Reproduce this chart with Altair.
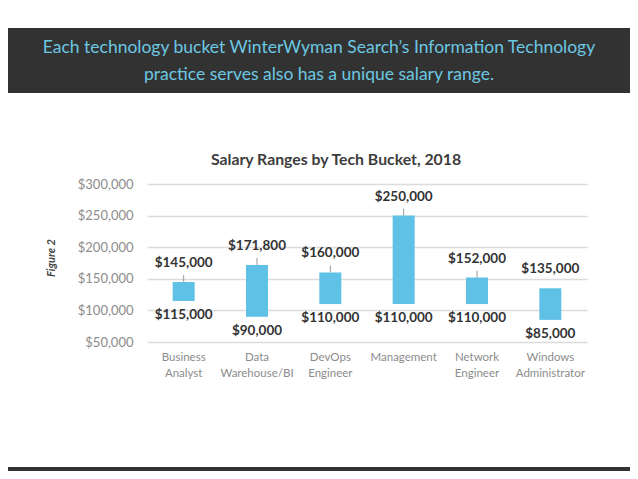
import altair as alt
import pandas as pd

# ---- data ----
categories = ["Business|Analyst", "Data|Warehouse/BI", "DevOps|Engineer",
              "Management", "Network|Engineer", "Windows|Administrator"]
min_salary = [115000, 90000, 110000, 110000, 110000, 85000]
max_salary = [145000, 171800, 160000, 250000, 152000, 135000]
y_ticks = [50000, 100000, 150000, 200000, 250000, 300000]
header_text = ("Each technology bucket WinterWyman Search\u2019s Information Technology\n"
               "practice serves also has a unique salary range.")
chart_title = "Salary Ranges by Tech Bucket, 2018"
side_label = "Figure 2"

df = pd.DataFrame({"category": categories, "min": min_salary, "max": max_salary})
one = pd.DataFrame({"k": [0]})

BAR = "#5ec1e5"
DARK = "#323232"
FONT = "Lato"

x_enc = alt.X("category:N", sort=categories, title=None,
              scale=alt.Scale(paddingInner=0, paddingOuter=0),
              axis=alt.Axis(labelExpr="split(datum.value, '|')", labelAngle=0,
                            ticks=False, domain=False, grid=False, labelOverlap=False,
                            labelFont=FONT, labelFontSize=11.5, labelColor="#8c8c8c",
                            labelLineHeight=16, labelPadding=9, labelBaseline="top"))
y_scale = alt.Scale(domain=[50000, 300000], nice=False, zero=False)
y_axis = alt.Axis(values=y_ticks, tickCount=6, format="$,.0f", ticks=False, domain=False,
                  grid=True, gridColor="#dcdcdc", gridWidth=1.5, labelOverlap=False,
                  labelFont=FONT, labelFontSize=13, labelColor="#8c8c8c",
                  labelPadding=14, title=None)


def yq(field):
    return alt.Y(field, type="quantitative", scale=y_scale, axis=y_axis, title=None)


base = alt.Chart(df)

bars = base.mark_bar(size=22, color=BAR).encode(
    x=x_enc, y=yq("min"), y2="max:Q",
)

leaders = base.transform_filter(
    alt.datum.category != categories[-1]
).transform_calculate(
    lead="datum.max + 11000"
).mark_rule(color="#9a9a9a", strokeWidth=1).encode(
    x=x_enc, y=yq("max"), y2="lead:Q"
)

top_labels = base.mark_text(dy=-19, font=FONT, fontWeight="bold", fontSize=13.5,
                            color="#333333").encode(
    x=x_enc, y=yq("max"),
    text=alt.Text("max:Q", format="$,.0f"))

bottom_labels = base.mark_text(dy=14, font=FONT, fontWeight="bold", fontSize=13.5,
                               color="#333333").encode(
    x=x_enc, y=yq("min"),
    text=alt.Text("min:Q", format="$,.0f"))

deco = alt.Chart(one)
header_band = deco.mark_rect(color=DARK).encode(
    x=alt.value(-139), x2=alt.value(483), y=alt.value(-156), y2=alt.value(-91))
footer_band = deco.mark_rect(color=DARK).encode(
    x=alt.value(-139), x2=alt.value(483), y=alt.value(283), y2=alt.value(290))
header = deco.mark_text(font=FONT, fontSize=17.5, color="#6cc8e2", lineBreak="\n",
                        lineHeight=27, align="center", baseline="middle").encode(
    x=alt.value(172), y=alt.value(-136), text=alt.value(header_text))
title = deco.mark_text(font=FONT, fontSize=15.8, fontWeight="bold", color="#3d3d3d",
                       align="center", baseline="middle").encode(
    x=alt.value(189), y=alt.value(-24), text=alt.value(chart_title))
figure = deco.mark_text(font=FONT, fontSize=11, fontWeight="bold", fontStyle="italic",
                        color="#444444", angle=270, align="center",
                        baseline="middle").encode(
    x=alt.value(-95), y=alt.value(74), text=alt.value(side_label))

chart = alt.layer(
    header_band, footer_band, header, title, figure,
    bars, leaders, top_labels, bottom_labels
).properties(
    width=440, height=158,
    autosize=alt.AutoSizeParams(type="none"),
    padding={"left": 139, "top": 176, "right": 43, "bottom": 129},
).configure_view(stroke=None)

chart.save("out.html", embed_options={"renderer": "svg", "actions": False})
